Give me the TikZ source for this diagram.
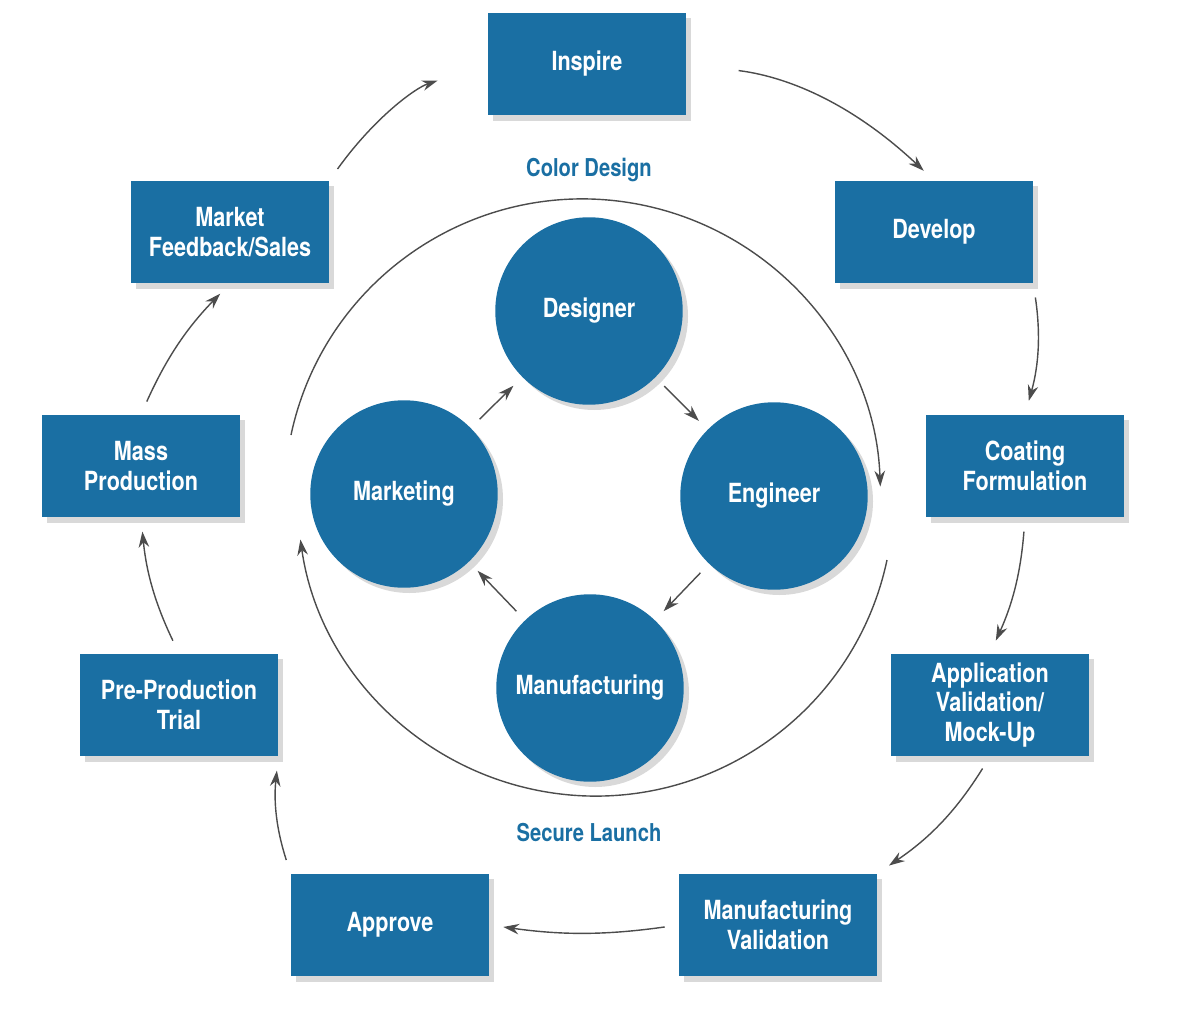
\documentclass[tikz,border=0pt]{standalone}
\usepackage{fontspec}
\setmainfont{TeX Gyre Heros}[FakeStretch=0.82]
\usetikzlibrary{shadows,arrows.meta}
\definecolor{cblue}{HTML}{1A6FA3}
\begin{document}
\begin{tikzpicture}[x=0.02cm,y=-0.02cm,
 box/.style={fill=cblue,draw=none,minimum width=3.96cm,minimum height=2.05cm,text=white,font=\fontsize{15}{17}\selectfont\bfseries,align=center,drop shadow={opacity=0.3,shadow xshift=3pt,shadow yshift=-3pt}},
 circ/.style={circle,fill=cblue,draw=none,minimum size=3.75cm,text=white,font=\fontsize{15}{17}\selectfont\bfseries,drop shadow={opacity=0.3,shadow xshift=3pt,shadow yshift=-3pt}},
 arr/.style={-{Stealth[length=9pt,width=6pt]},draw=black!70,line width=0.8pt},
 lbl/.style={text=cblue,font=\fontsize{14}{16}\selectfont\bfseries}]
\useasboundingbox (0,0) rectangle (1200,1027);
\node[box] (insp) at (587,64) {Inspire};
\node[box] (dev) at (934,232) {Develop};
\node[box] (coat) at (1025,466) {Coating\\Formulation};
\node[box] (app) at (990,705) {Application\\Validation/\\Mock-Up};
\node[box] (mval) at (778,925) {Manufacturing\\Validation};
\node[box] (appr) at (390,925) {Approve};
\node[box] (pre) at (179,705) {Pre-Production\\Trial};
\node[box] (mass) at (141,466) {Mass\\Production};
\node[box] (mkt) at (230,232) {Market\\Feedback/Sales};
\node[circ] (des) at (589,311) {Designer};
\node[circ] (eng) at (774,496) {Engineer};
\node[circ] (man) at (590,688) {Manufacturing};
\node[circ] (mar) at (404,494) {Marketing};
\node[lbl] (cd) at (589,170) {Color Design};
\node[lbl] (sl) at (589,833) {Secure Launch};
\coordinate (c) at (589,492);
\draw[arr] (291,435) arc[start angle=168,end angle=2,x radius=298,y radius=-298];
\draw[arr] (887,560) arc[start angle=-12,end angle=-172,x radius=298,y radius=-298];
\draw[arr,shorten <=30pt,shorten >=8pt] (insp.east) to[bend left=18] (dev.north);
\draw[arr,shorten <=8pt,shorten >=8pt] (dev.south east) to[bend left=12] (coat.north);
\draw[arr,shorten <=8pt,shorten >=8pt] (coat.south) to[bend left=10] (app.north);
\draw[arr,shorten <=8pt,shorten >=8pt] (app.south) to[bend left=12] (mval.north east);
\draw[arr,shorten <=8pt,shorten >=8pt] (mval.west) to[bend left=8] (appr.east);
\draw[arr,shorten <=8pt,shorten >=8pt] (appr.north west) to[bend left=12] (pre.south east);
\draw[arr,shorten <=8pt,shorten >=8pt] (pre.north) to[bend left=10] (mass.south);
\draw[arr,shorten <=8pt,shorten >=8pt] (mass.north) to[bend left=10] (mkt.south);
\draw[arr,shorten <=8pt,shorten >=30pt] (mkt.north east) to[bend left=18] (insp.west);
\draw[arr,shorten <=7pt,shorten >=7pt] (des) -- (eng);
\draw[arr,shorten <=7pt,shorten >=7pt] (eng) -- (man);
\draw[arr,shorten <=7pt,shorten >=7pt] (man) -- (mar);
\draw[arr,shorten <=7pt,shorten >=7pt] (mar) -- (des);
\end{tikzpicture}
\end{document}
